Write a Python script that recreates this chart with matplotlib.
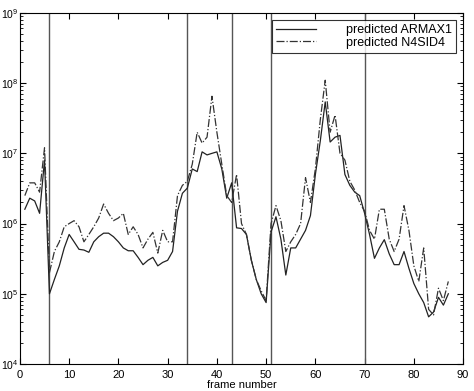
import matplotlib
matplotlib.use("Agg")
import matplotlib.pyplot as plt
from matplotlib.ticker import LogLocator, NullFormatter

plt.rcParams['font.family'] = ['Liberation Sans', 'DejaVu Sans']
plt.rcParams['mathtext.fontset'] = 'custom'
plt.rcParams['mathtext.rm'] = 'Liberation Sans'
plt.rcParams['mathtext.it'] = 'Liberation Sans'

# frame numbers 1..87
frames = list(range(1, 88))

armax1 = [1.6e6, 2.3e6, 2.1e6, 1.4e6, 8e6, 1e5, 1.6e5, 2.5e5, 4.5e5, 7e5,
          5.5e5, 4.3e5, 4.2e5, 3.9e5, 5.5e5, 6.5e5, 7.3e5, 7.3e5, 6.5e5, 5.5e5,
          4.5e5, 4.1e5, 4.1e5, 3.3e5, 2.6e5, 3e5, 3.3e5, 2.5e5, 2.8e5, 3e5,
          4e5, 1.5e6, 2.7e6, 3.2e6, 6e6, 5.5e6, 1.05e7, 9.5e6, 1e7, 1.05e7,
          6e6, 2.3e6, 3.8e6, 8.7e5, 8.5e5, 7e5, 3e5, 1.6e5, 1e5, 7.5e4,
          7.6e5, 1.25e6, 6e5, 1.85e5, 4.5e5, 4.5e5, 6e5, 8e5, 1.3e6, 5e6,
          1.5e7, 5.4e7, 1.45e7, 1.7e7, 1.8e7, 5e6, 3.5e6, 2.8e6, 2.5e6, 1.4e6,
          7e5, 3.2e5, 4.5e5, 5.9e5, 3.7e5, 2.6e5, 2.6e5, 4e5, 2.3e5, 1.4e5,
          1e5, 7.5e4, 4.7e4, 5.5e4, 8.9e4, 6.9e4, 1e5]

n4sid4 = [2.5e6, 3.8e6, 3.8e6, 2.8e6, 1.2e7, 2e5, 4e5, 5.5e5, 9e5, 1e6,
          1.1e6, 9e5, 5.5e5, 7e5, 9e5, 1.2e6, 1.9e6, 1.4e6, 1.1e6, 1.2e6,
          1.4e6, 7e5, 9e5, 7e5, 4.5e5, 6e5, 7.5e5, 3.8e5, 8e5, 5.5e5,
          5.5e5, 2.5e6, 3.5e6, 4e6, 7e6, 2e7, 1.4e7, 1.7e7, 6.5e7, 2e7,
          7e6, 2.5e6, 2e6, 5e6, 1e6, 7e5, 3e5, 1.6e5, 1.1e5, 8e4,
          1e6, 1.8e6, 1.1e6, 4e5, 5.5e5, 7e5, 1e6, 4.5e6, 2e6, 6e6,
          3e7, 1.1e8, 2e7, 3.5e7, 1e7, 8e6, 4e6, 3e6, 2e6, 1.5e6,
          8e5, 6e5, 1.6e6, 1.6e6, 6e5, 4e5, 6e5, 1.8e6, 8e5, 2.5e5,
          1.5e5, 4.5e5, 6e4, 5e4, 1.2e5, 8e4, 1.5e5]

boundaries = [6, 34, 43, 51, 70]

fig = plt.figure(figsize=(4.74, 3.91), dpi=100)
ax = fig.add_axes([0.042, 0.069, 0.935, 0.898])

for b in boundaries:
    ax.axvline(b, color="#555555", linewidth=1.0)

ax.plot(frames, armax1, color="#222222", linewidth=0.9, label="predicted ARMAX1")
ax.plot(frames, n4sid4, color="#333333", linewidth=0.9, linestyle="-.",
        label="predicted N4SID4")

ax.set_yscale("log")
ax.set_xlim(0, 90)
ax.set_ylim(1e4, 1e9)
ax.set_xticks(range(0, 91, 10))
ax.yaxis.set_major_locator(LogLocator(base=10, numticks=10))
ax.yaxis.set_minor_locator(LogLocator(base=10, subs=range(2, 10), numticks=10))
ax.yaxis.set_minor_formatter(NullFormatter())
ax.tick_params(which="both", direction="in", top=True, right=True, labelsize=8)
ax.tick_params(axis="x", pad=4)
ax.tick_params(axis="y", labelsize=7.5, pad=1)
ax.tick_params(which="major", length=4)
ax.tick_params(which="minor", length=2)
for s in ax.spines.values():
    s.set_linewidth(0.8)

ax.set_xlabel("frame number", fontsize=8, labelpad=0)

leg = ax.legend(loc="upper right", fontsize=9, frameon=True, fancybox=False,
                edgecolor="black", borderpad=0.3, labelspacing=0.05,
                handlelength=3.2, handletextpad=2.4, borderaxespad=0.6)
leg.get_frame().set_linewidth(0.8)

fig.savefig("out.png", dpi=100)
